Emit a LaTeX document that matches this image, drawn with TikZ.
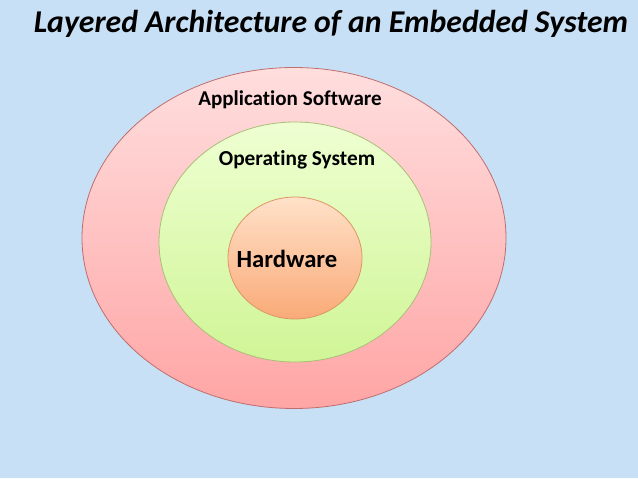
\documentclass[tikz,border=0pt]{standalone}
\usepackage{fontspec}
\setmainfont{Carlito}[Ligatures=NoCommon]
\usepackage{tikz}
\usetikzlibrary{shapes.geometric}

\definecolor{bgblue}{RGB}{200,224,245}
\definecolor{appTop}{RGB}{255,222,222}
\definecolor{appBot}{RGB}{255,165,165}
\definecolor{appLine}{RGB}{190,110,110}
\definecolor{osTop}{RGB}{238,255,210}
\definecolor{osBot}{RGB}{208,245,150}
\definecolor{osLine}{RGB}{170,190,120}
\definecolor{hwTop}{RGB}{255,225,200}
\definecolor{hwBot}{RGB}{250,170,120}
\definecolor{hwLine}{RGB}{220,150,100}

\tikzset{
  layer/.style={ellipse, inner sep=0pt, line width=0.6pt},
  lbl/.style={inner sep=0.75pt, font=\bfseries}
}

\begin{document}
\begin{tikzpicture}[x=0.75pt,y=0.75pt,yscale=-1,xscale=1]
		%set diagram to the size of the slide
		\useasboundingbox (0,0) rectangle (638,478);
		\fill[bgblue] (0,0) rectangle (638,478);
		
		%Shape: Ellipse [id:application]
		\node[layer, draw=appLine, top color=appTop, bottom color=appBot,
		      minimum width=424*0.75pt, minimum height=341*0.75pt] (app) at (294,238) {};
		%Shape: Ellipse [id:os]
		\node[layer, draw=osLine, top color=osTop, bottom color=osBot,
		      minimum width=272*0.75pt, minimum height=240*0.75pt] (os) at (295,242) {};
		%Shape: Ellipse [id:hardware]
		\node[layer, draw=hwLine, top color=hwTop, bottom color=hwBot,
		      minimum width=134*0.75pt, minimum height=122*0.75pt] (hw) at (295,258) {};
		
		% Text Node
		\node[lbl, font=\bfseries\itshape\fontsize{23.8}{28}\selectfont] (title) at (331,24) {Layered Architecture of an Embedded System};
		% Text Node
		\node[lbl, font=\bfseries\fontsize{15.8}{19}\selectfont] (appText) at (290,100) {Application Software};
		% Text Node
		\node[lbl, font=\bfseries\fontsize{16}{19}\selectfont] (osText) at (297,160) {Operating System};
		% Text Node
		\node[lbl, font=\bfseries\fontsize{18.5}{22}\selectfont] (hwText) at (287,259) {Hardware};
		
\end{tikzpicture}
\end{document}
